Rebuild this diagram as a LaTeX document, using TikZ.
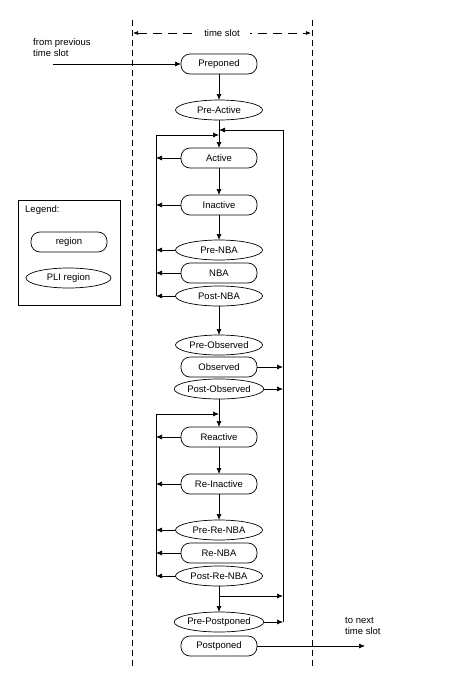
\documentclass[tikz,border=0pt]{standalone}
\usepackage{fontspec}
\setmainfont{Liberation Sans}
\usetikzlibrary{arrows.meta,positioning,shapes.geometric}

\begin{document}
\begin{tikzpicture}[
      x=1pt,y=1pt,
      node distance=27pt,
      font=\fontsize{9.5}{11}\selectfont,
      region/.style={draw,line width=0.7pt,rounded corners=9pt,outer sep=0pt,
                     minimum width=76pt,minimum height=20pt,inner sep=0pt},
      pli/.style={draw,line width=0.7pt,ellipse,minimum width=87pt,outer sep=0pt,
                  minimum height=20pt,inner sep=0pt},
      link/.style={-{Latex[length=6pt,width=5pt]},line width=0.7pt},
      slotline/.style={dash pattern=on 6pt off 4pt,line width=0.7pt}
    ]
    \useasboundingbox (0,0) rectangle (448,-673);

    % time slot borders
    \draw[slotline] (132,-20) -- (132,-668);
    \draw[slotline] (312,-20) -- (312,-668);
    \coordinate (slotl) at (133,-33);
    \coordinate (slotr) at (311,-33);
    \draw[slotline,dash pattern=on 9pt off 6pt,
          {Latex[length=5pt,width=4pt]}-{Latex[length=5pt,width=4pt]}]
      (slotl) -- node[fill=white,inner xsep=10pt,inner ysep=3pt] (slotlbl) {time slot} (slotr);

    % regions
    \node[region] (prep) at (219,-64) {Preponed};
    \node[pli,below=26pt of prep] (preact) {Pre-Active};
    \node[region,below=28pt of preact] (act) {Active};
    \node[region,below=of act] (inact) {Inactive};
    \node[pli,below=25pt of inact] (prenba) {Pre-NBA};
    \node[region,below=3pt of prenba] (nba) {NBA};
    \node[pli,below=3pt of nba] (postnba) {Post-NBA};
    \node[pli,below=29pt of postnba] (preobs) {Pre-Observed};
    \node[region,below=2pt of preobs] (obs) {Observed};
    \node[pli,below=2pt of obs] (postobs) {Post-Observed};
    \node[region,below=28pt of postobs] (react) {Reactive};
    \node[region,below=of react] (reinact) {Re-Inactive};
    \node[pli,below=26pt of reinact] (prerenba) {Pre-Re-NBA};
    \node[region,below=3pt of prerenba] (renba) {Re-NBA};
    \node[pli,below=3pt of renba] (postrenba) {Post-Re-NBA};
    \node[pli,below=26pt of postrenba] (prepost) {Pre-Postponed};
    \node[region,below=4pt of prepost] (post) {Postponed};

    % main flow
    \draw[link] (prep) -- (preact);
    \draw[link] (preact) -- (act);
    \draw[link] (act) -- (inact);
    \draw[link] (inact) -- (prenba);
    \draw[link] (postnba) -- (preobs);
    \draw[link] (postobs) -- (react);
    \draw[link] (react) -- (reinact);
    \draw[link] (reinact) -- (prerenba);
    \draw[link] (postrenba) -- (prepost);

    % active loop
    \coordinate (lx) at (156,0);
    \coordinate (lin1) at ([yshift=-15pt]preact.south);
    \draw[link] (lx |- postnba) -- (lx |- lin1) -- (lin1);
    \foreach \n in {act,inact,prenba,nba,postnba}
      \draw[link] (\n) -- (lx |- \n);

    % reactive loop
    \coordinate (lin2) at ([yshift=-15pt]postobs.south);
    \draw[link] (lx |- postrenba) -- (lx |- lin2) -- (lin2);
    \foreach \n in {react,reinact,prerenba,renba,postrenba}
      \draw[link] (\n) -- (lx |- \n);

    % back to active
    \coordinate (rx) at (283,0);
    \coordinate (rin) at ([yshift=-10pt]preact.south);
    \draw[link] (rx |- prepost) -- (rx |- rin) -- (rin);
    \foreach \n in {obs,postobs,prepost}
      \draw[link] (\n) -- (rx |- \n);
    \coordinate (rjoin) at ([yshift=-10pt]postrenba.south);
    \draw[link] (rjoin) -- (rx |- rjoin);

    % previous / next slot
    \node[align=left,anchor=north west,inner sep=0pt] (prevtxt) at (33,-38)
      {from previous\\time slot};
    \coordinate (prevstart) at ([xshift=-128pt]prep.west);
    \draw[link] (prevstart) -- (prep);
    \node[align=left,anchor=north west,inner sep=0pt] (nexttxt) at (345,-617)
      {to next\\time slot};
    \coordinate (nextend) at ([xshift=108pt]post.east);
    \draw[link] (post) -- (nextend);

    % legend
    \node[draw,line width=0.7pt,minimum width=102pt,minimum height=105pt]
      (legend) at (69,-252.5) {};
    \node[anchor=west,inner sep=2pt] (lgtitle) at (23,-210) {Legend:};
    \node[region] (lgregion) at (69,-242) {region};
    \node[pli,minimum width=85pt] (lgpli) at (68.5,-278) {PLI region};
  \end{tikzpicture}
\end{document}
